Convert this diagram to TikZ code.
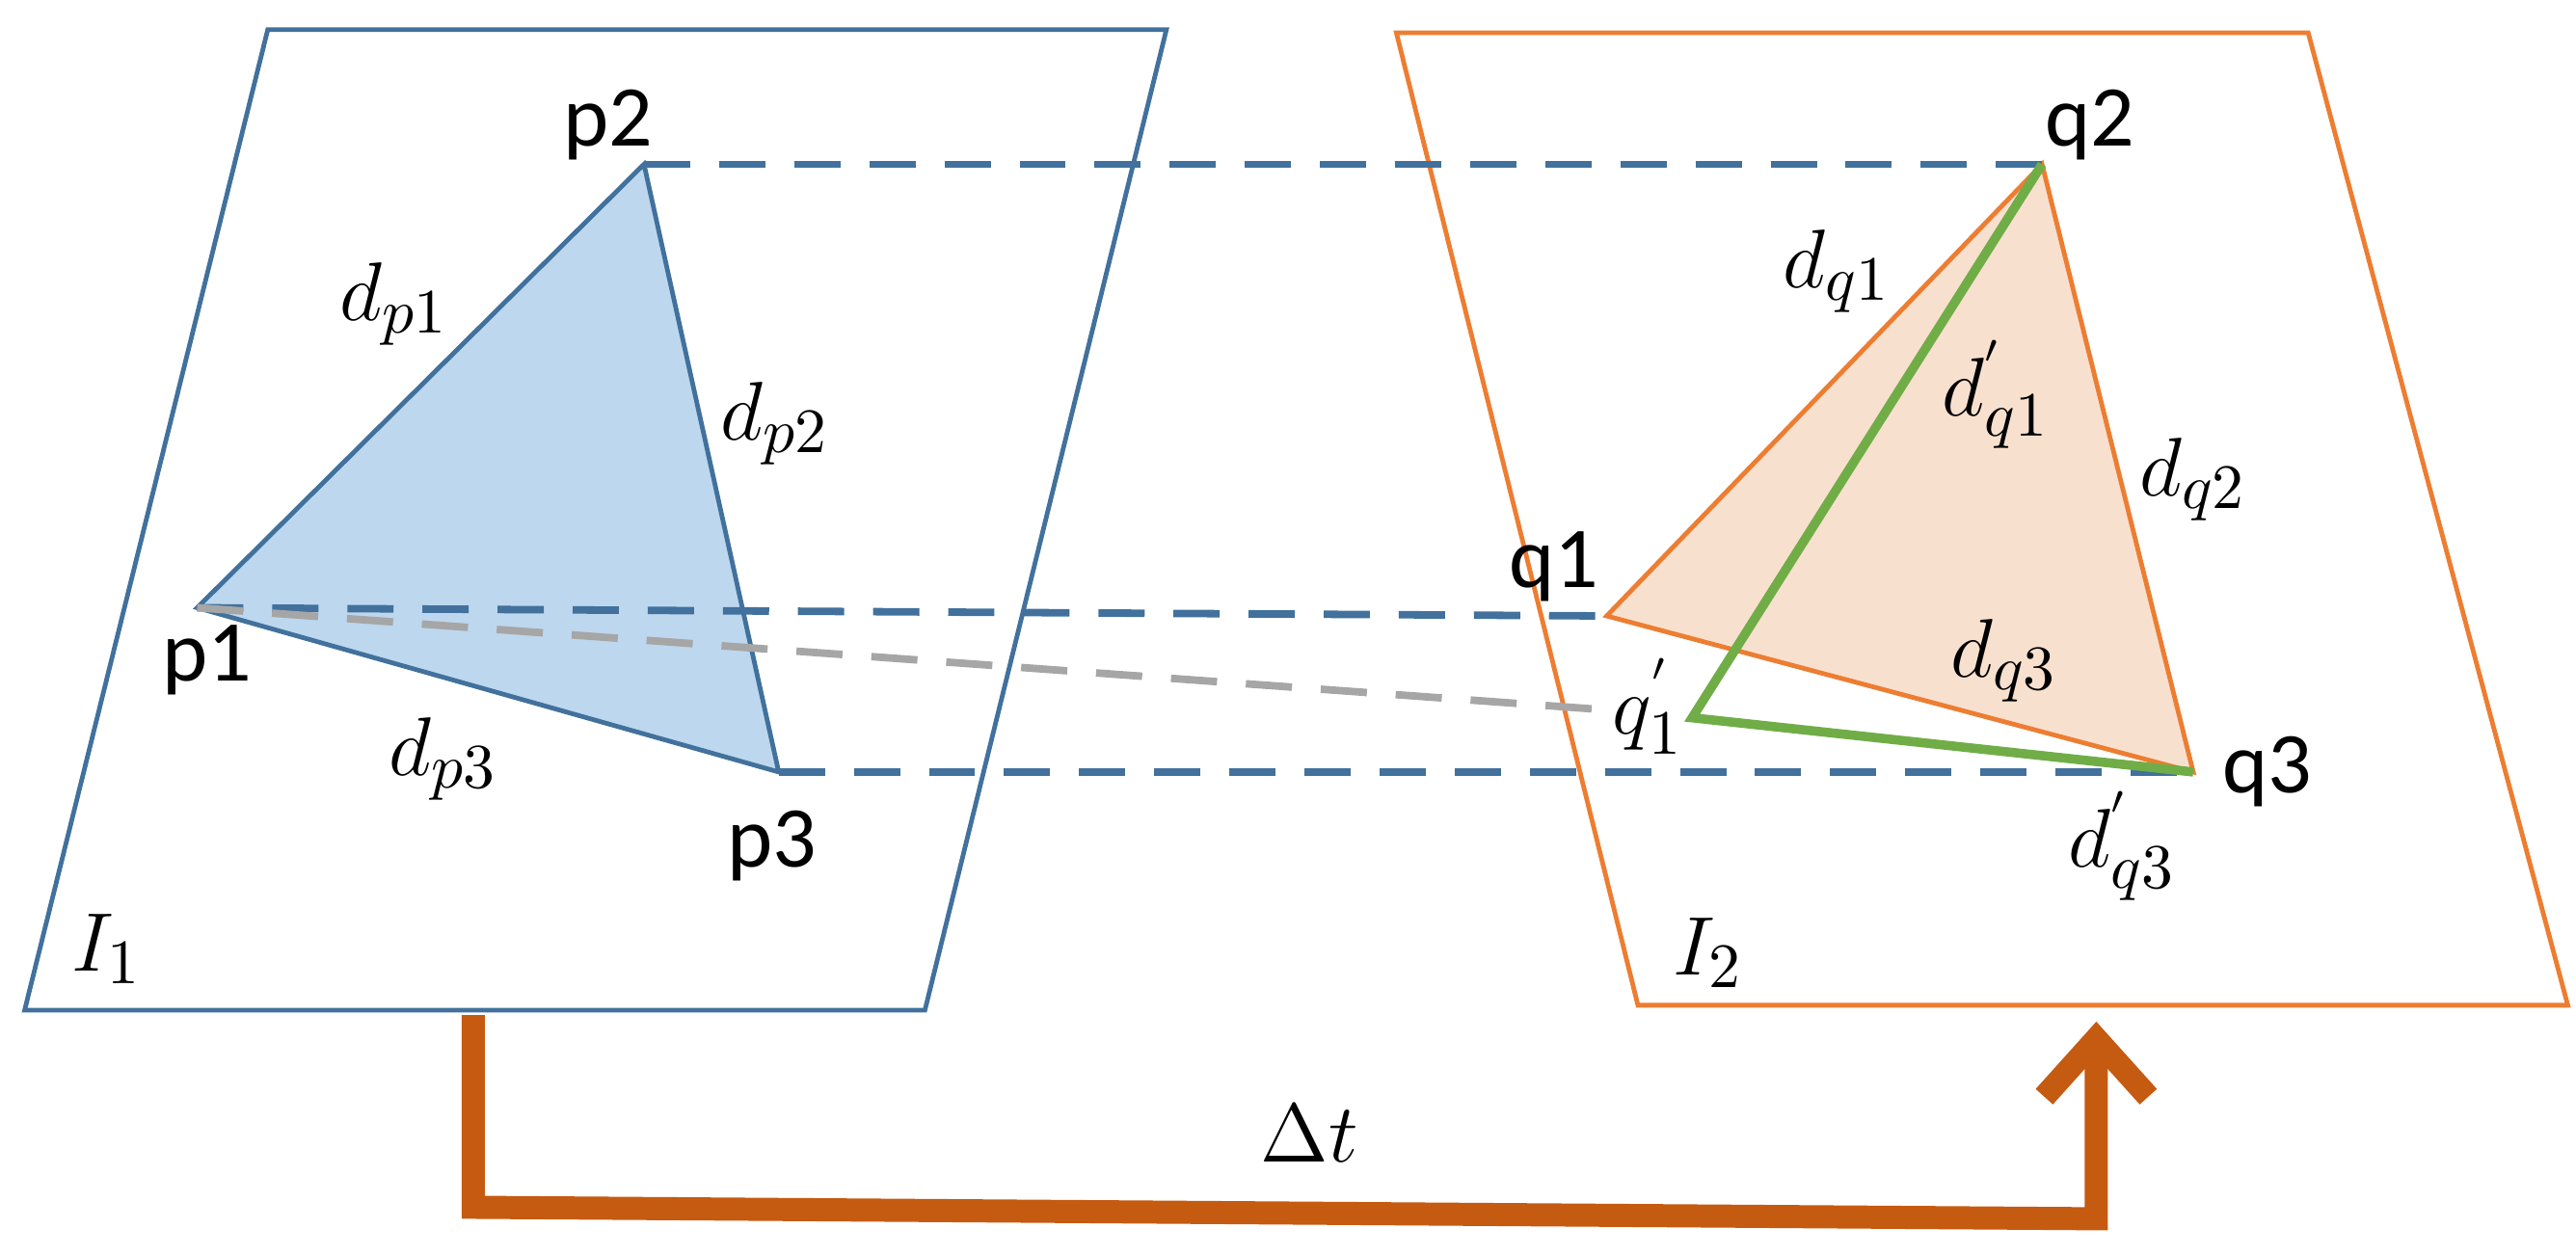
\documentclass[tikz,border=0pt]{standalone}
\usepackage{fontspec}
\setmainfont{Carlito}
\usetikzlibrary{arrows.meta}
\definecolor{bl}{RGB}{65,113,156}
\definecolor{blfill}{RGB}{189,215,238}
\definecolor{orl}{RGB}{237,125,49}
\definecolor{orfill}{RGB}{248,224,207}
\definecolor{gr}{RGB}{112,173,71}
\definecolor{arr}{RGB}{197,90,17}
\tikzset{lbl/.style={font=\fontsize{15}{17}\selectfont},
 dl/.style={bl,line width=1.3pt,dash pattern=on 8pt off 5pt}}
\begin{document}
\begin{tikzpicture}[x=0.01cm,y=-0.01cm]
\useasboundingbox (0,0) rectangle (1568,764);
\coordinate (p1) at (120,370); \coordinate (p2) at (392,100); \coordinate (p3) at (474,470);
\coordinate (q1) at (978,375); \coordinate (q2) at (1243,100); \coordinate (q3) at (1335,470);
\coordinate (qp) at (1030,437);
\draw[bl,line width=0.8pt,fill=white] (163,18) -- (710,18) -- (563,615) -- (15,615) -- cycle;
\draw[orl,line width=0.8pt,fill=white] (850,20) -- (1405,20) -- (1563,612) -- (997,612) -- cycle;
\draw[bl,fill=blfill,line width=0.8pt] (p1) -- (p2) -- (p3) -- cycle;
\draw[orl,fill=orfill,line width=0.8pt] (q1) -- (q2) -- (q3) -- cycle;
\draw[dl] (p2) -- (q2);
\draw[dl] (p1) -- (q1);
\draw[dl] (p3) -- (q3);
\draw[gray!70,line width=1.3pt,dash pattern=on 8pt off 5pt] (p1) -- (975,432);
\draw[gr,line width=1.6pt] (q2) -- (qp) -- (q3);
\node[lbl] (lp2) at (370,76) {p2};
\node[lbl] (lp1) at (126,402) {p1};
\node[lbl] (lp3) at (470,515) {p3};
\node[lbl] (lq2) at (1272,76) {q2};
\node[lbl] (lq1) at (946,345) {q1};
\node[lbl] (lq3) at (1380,470) {q3};
\node[lbl] (lqp) at (1003,430) {$q_1^{'}$};
\node[lbl] (dp1) at (240,185) {$d_{p1}$};
\node[lbl] (dp2) at (472,258) {$d_{p2}$};
\node[lbl] (dp3) at (270,462) {$d_{p3}$};
\node[lbl] (dq1) at (1118,165) {$d_{q1}$};
\node[lbl] (dqp1) at (1215,240) {$d^{'}_{q1}$};
\node[lbl] (dq2) at (1335,292) {$d_{q2}$};
\node[lbl] (dq3) at (1220,402) {$d_{q3}$};
\node[lbl] (dqp3) at (1292,515) {$d^{'}_{q3}$};
\node[lbl] (I1) at (65,578) {$I_1$};
\node[lbl] (I2) at (1040,580) {$I_2$};
\node[lbl] (dt) at (797,690) {$\Delta t$};
\coordinate (a0) at (288,618); \coordinate (a1) at (288,735);
\coordinate (a2) at (1276,742); \coordinate (a3) at (1276,622);
\draw[arr,line width=4pt,-{Straight Barb[length=10pt,width=18pt]}] (a0) -- (a1) -- (a2) -- (a3);
\end{tikzpicture}
\end{document}
